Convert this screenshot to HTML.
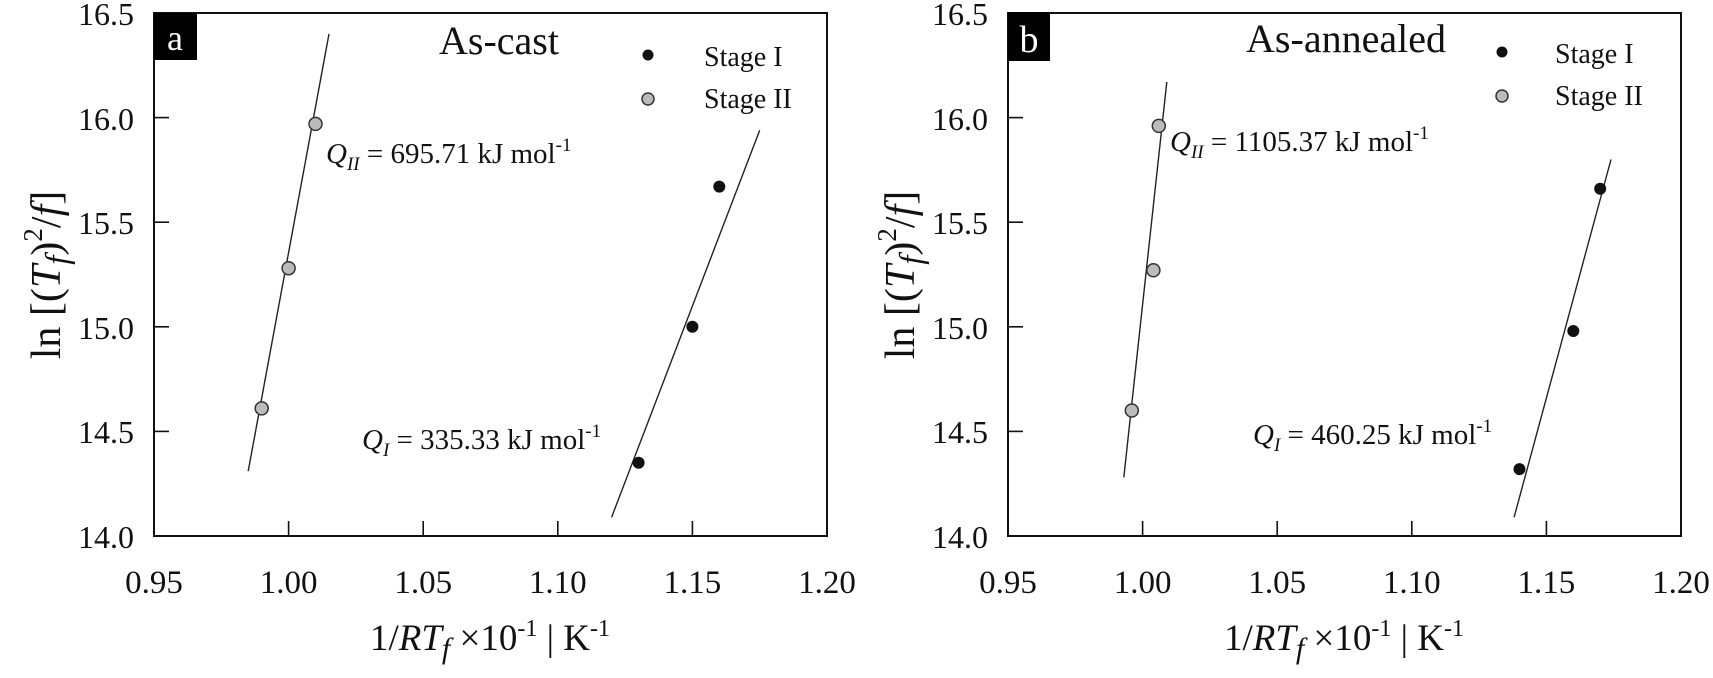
<!DOCTYPE html>
<html><head><meta charset="utf-8"><style>
html,body{margin:0;padding:0;background:#fff;}
svg{display:block;font-family:"Liberation Serif",serif;}
</style></head><body>
<svg width="1713" height="678" viewBox="0 0 1713 678" xmlns="http://www.w3.org/2000/svg">
<defs>
<g id="ax">
  <rect x="0" y="0" width="673" height="523" fill="none" stroke="#111" stroke-width="2"/>
  <g stroke="#111" stroke-width="1.6">
    <line x1="134.6" y1="523" x2="134.6" y2="508"/>
    <line x1="269.2" y1="523" x2="269.2" y2="508"/>
    <line x1="403.8" y1="523" x2="403.8" y2="508"/>
    <line x1="538.4" y1="523" x2="538.4" y2="508"/>
    <line x1="0" y1="418.4" x2="15" y2="418.4"/>
    <line x1="0" y1="313.8" x2="15" y2="313.8"/>
    <line x1="0" y1="209.2" x2="15" y2="209.2"/>
    <line x1="0" y1="104.6" x2="15" y2="104.6"/>
  </g>
  <g font-size="32" text-anchor="end" fill="#111">
    <text x="-20" y="535">14.0</text>
    <text x="-20" y="430">14.5</text>
    <text x="-20" y="326">15.0</text>
    <text x="-20" y="221">15.5</text>
    <text x="-20" y="117">16.0</text>
    <text x="-20" y="12">16.5</text>
  </g>
  <g font-size="33" text-anchor="middle" fill="#111">
    <text x="0" y="580">0.95</text>
    <text x="134.6" y="580">1.00</text>
    <text x="269.2" y="580">1.05</text>
    <text x="403.8" y="580">1.10</text>
    <text x="538.4" y="580">1.15</text>
    <text x="673" y="580">1.20</text>
  </g>
  <text x="336" y="637" font-size="37" text-anchor="middle" fill="#111">1/<tspan font-style="italic">RT</tspan><tspan font-style="italic" font-size="30" dy="8">f</tspan><tspan dy="-8"> ×10</tspan><tspan font-size="24" dy="-14">-1</tspan><tspan dy="14"> | K</tspan><tspan font-size="24" dy="-14">-1</tspan></text>
  <text transform="translate(-94,262) rotate(-90)" font-size="42" text-anchor="middle" fill="#111">ln [(<tspan font-style="italic">T</tspan><tspan font-style="italic" font-size="33" dy="8">f</tspan><tspan dy="-8">)</tspan><tspan font-size="27" dy="-18">2</tspan><tspan dy="18">/</tspan><tspan font-style="italic">f</tspan>]</text>
</g>
</defs>

<!-- Panel a -->
<g transform="translate(154,13)"><use href="#ax"/></g>
<rect x="154" y="13" width="43" height="47" fill="#000"/>
<text x="175" y="50" font-size="36" fill="#fff" text-anchor="middle">a</text>
<text x="499" y="54" font-size="40" text-anchor="middle" fill="#111">As-cast</text>
<circle cx="648" cy="55" r="5.5" fill="#111"/>
<circle cx="648" cy="99" r="6" fill="#bbb" stroke="#333" stroke-width="1.5"/>
<text x="704" y="66" font-size="28" fill="#111">Stage I</text>
<text x="704" y="108" font-size="28" fill="#111">Stage II</text>
<line x1="248.2" y1="471.1" x2="329" y2="33.9" stroke="#222" stroke-width="1.4"/>
<line x1="611.6" y1="517.2" x2="759.7" y2="130.2" stroke="#222" stroke-width="1.4"/>
<g fill="#bbb" stroke="#333" stroke-width="1.5">
<circle cx="261.7" cy="408.4" r="6.5"/><circle cx="288.6" cy="268.2" r="6.5"/><circle cx="315.5" cy="123.9" r="6.5"/>
</g>
<g fill="#111"><circle cx="638.6" cy="462.8" r="6"/><circle cx="692.4" cy="326.8" r="6"/><circle cx="719.3" cy="186.6" r="6"/></g>
<text x="326" y="163" font-size="29" fill="#111"><tspan font-style="italic">Q</tspan><tspan font-style="italic" font-size="19" dy="7">II</tspan><tspan dy="-7"> = 695.71  kJ mol</tspan><tspan font-size="19" dy="-12">-1</tspan></text>
<text x="362" y="449" font-size="29" fill="#111"><tspan font-style="italic">Q</tspan><tspan font-style="italic" font-size="19" dy="7">I</tspan><tspan dy="-7"> = 335.33  kJ mol</tspan><tspan font-size="19" dy="-12">-1</tspan></text>

<!-- Panel b -->
<g transform="translate(1008,13)"><use href="#ax"/></g>
<rect x="1008" y="12" width="42" height="49" fill="#000"/>
<text x="1029" y="52" font-size="38" fill="#fff" text-anchor="middle">b</text>
<text x="1346" y="52" font-size="40" text-anchor="middle" fill="#111">As-annealed</text>
<circle cx="1502" cy="52" r="5.5" fill="#111"/>
<circle cx="1502" cy="96" r="6" fill="#bbb" stroke="#333" stroke-width="1.5"/>
<text x="1555" y="63" font-size="28" fill="#111">Stage I</text>
<text x="1555" y="105" font-size="28" fill="#111">Stage II</text>
<line x1="1123.8" y1="477.4" x2="1166.8" y2="82" stroke="#222" stroke-width="1.4"/>
<line x1="1514.1" y1="517.2" x2="1611" y2="159.5" stroke="#222" stroke-width="1.4"/>
<g fill="#bbb" stroke="#333" stroke-width="1.5">
<circle cx="1131.8" cy="410.5" r="6.5"/><circle cx="1153.4" cy="270.3" r="6.5"/><circle cx="1158.8" cy="125.9" r="6.5"/>
</g>
<g fill="#111"><circle cx="1519.5" cy="469.1" r="6"/><circle cx="1573.3" cy="331" r="6"/><circle cx="1600.2" cy="188.7" r="6"/></g>
<text x="1170" y="151" font-size="29" fill="#111"><tspan font-style="italic">Q</tspan><tspan font-style="italic" font-size="19" dy="7">II</tspan><tspan dy="-7"> = 1105.37  kJ mol</tspan><tspan font-size="19" dy="-12">-1</tspan></text>
<text x="1253" y="444" font-size="29" fill="#111"><tspan font-style="italic">Q</tspan><tspan font-style="italic" font-size="19" dy="7">I</tspan><tspan dy="-7"> = 460.25  kJ mol</tspan><tspan font-size="19" dy="-12">-1</tspan></text>
</svg>
</body></html>
